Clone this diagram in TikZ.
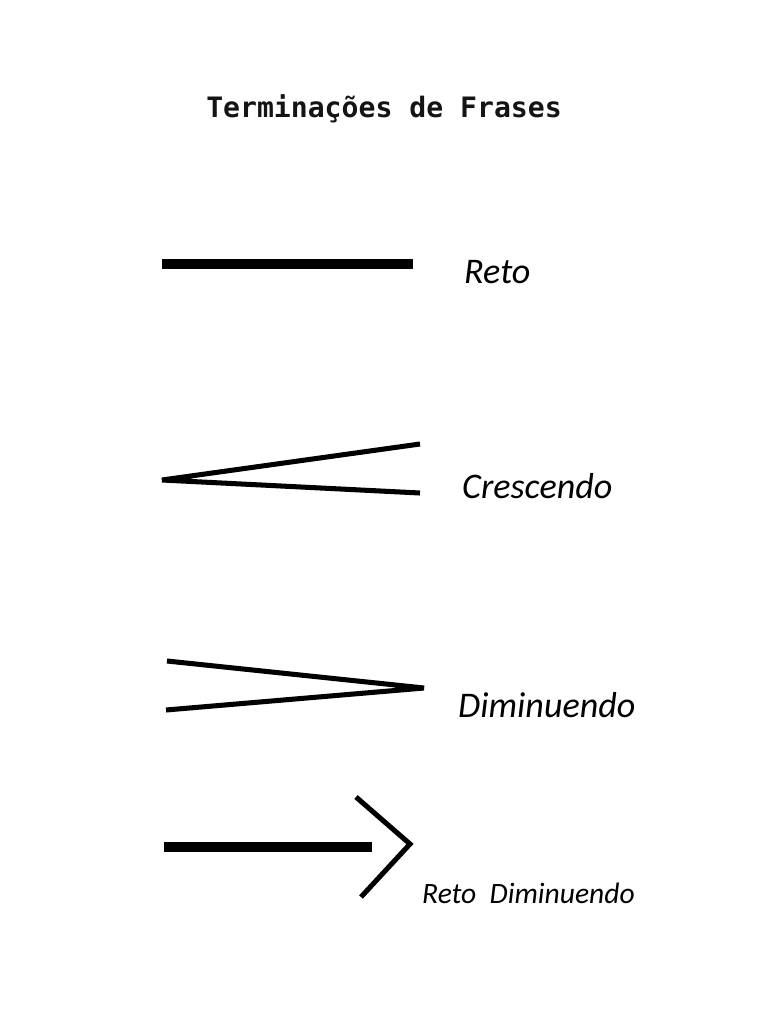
\documentclass[tikz,border=0pt]{standalone}
\usepackage{fontspec}
\setmainfont{Carlito}
\newfontfamily\titlefont{DejaVu Sans Mono}
\usepackage{xcolor}
\definecolor{ink}{RGB}{20,20,20}

\begin{document}
\begin{tikzpicture}[x=0.03cm,y=-0.03cm,line cap=butt,line join=miter,inner sep=0pt]
\useasboundingbox (0,0) rectangle (768,1024);
% title
\node[anchor=base,font=\titlefont\bfseries\fontsize{24}{28}\selectfont,text=ink] (title) at (384,117){Terminações de Frases};
% reto
\draw[line width=8.5pt] (162,264) -- (413,264);
\node[anchor=base west,font=\itshape\fontsize{30.8}{35}\selectfont] (reto) at (464,283){Reto};
% crescendo
\draw[line width=4.3pt] (420,444) -- (162,480) -- (420,493);
\node[anchor=base west,font=\itshape\fontsize{30.8}{35}\selectfont] (cresc) at (462,498){Crescendo};
% diminuendo
\draw[line width=4.3pt] (167,661) -- (424,688) -- (166,710);
\node[anchor=base west,font=\itshape\fontsize{30.8}{35}\selectfont] (dimin) at (458,717){Diminuendo};
% reto diminuendo
\draw[line width=9pt] (164,847) -- (372,847);
\draw[line width=4.3pt] (356,797) -- (410,844) -- (361,897);
\node[anchor=base west,font=\itshape\fontsize{25.2}{29}\selectfont] (retodim) at (422,903){Reto\ \ Diminuendo};
\end{tikzpicture}
\end{document}
